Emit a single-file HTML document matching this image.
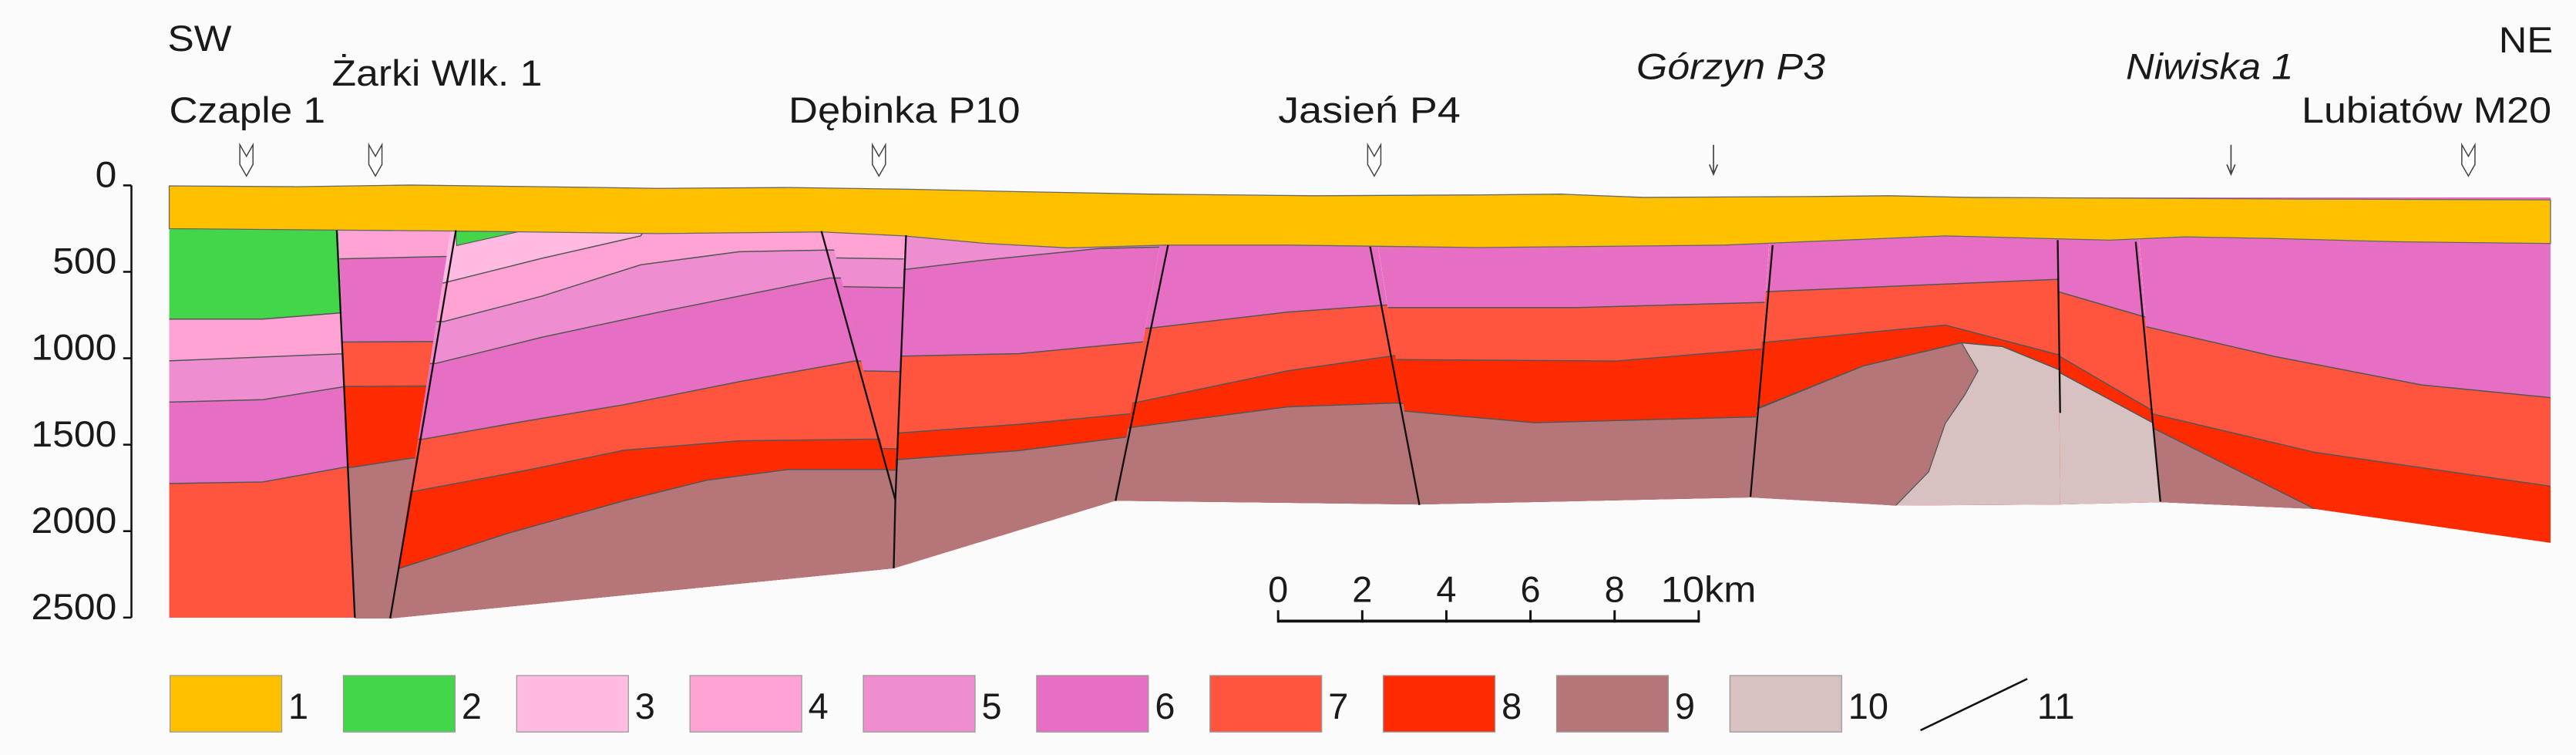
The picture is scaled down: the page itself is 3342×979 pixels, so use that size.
<!DOCTYPE html>
<html><head><meta charset="utf-8"><style>
html,body{margin:0;padding:0;background:#fbfbfb;}
svg{display:block;}
text{font-family:"Liberation Sans",sans-serif;fill:#1a1a1a;}
</style></head><body>
<svg id="s" width="3342" height="979" viewBox="0 0 1568 459" preserveAspectRatio="none" xmlns="http://www.w3.org/2000/svg">
<rect x="0" y="0" width="1568" height="459" fill="#fbfbfb"/>
<defs id="defs"></defs>
<g id="blocks"></g>
<g id="top"></g>
</svg>
<script>
const C={1:'#FFC000',2:'#43D64A',3:'#FFBBE1',4:'#FFA3D5',5:'#EE8DCF',6:'#E66FC3',7:'#FF553F',8:'#FF2B00',9:'#B5767A',10:'#D8C1C1'};
const depthTicks=[0,500,1000,1500,2000,2500];
const tickW=[13,39,52,52,52,52];
const wellNames=['Czaple 1','Żarki Wlk. 1','Dębinka P10','Jasień P4','Górzyn P3','Niwiska 1','Lubiatów M20'];
const wellX=[150,228.5,535,836.5,1043,1358,1502.5];
const wellKind=[0,0,0,0,1,1,0];
const labelPos=[[103,74.6,95,0],[202,52,128,0],[480,74.6,141,0],[778,74.6,111,0],[996,48,115,1],[1294,48,102,1],[1401,74.6,152,0]];
const NS='http://www.w3.org/2000/svg';
const svg=document.getElementById('s'),defs=document.getElementById('defs'),G=document.getElementById('blocks'),T=document.getElementById('top');
function el(tag,attrs,parent){const e=document.createElementNS(NS,tag);for(const k in attrs)e.setAttribute(k,attrs[k]);(parent||G).appendChild(e);return e;}
function pts(a){return a.map(p=>p.join(',')).join(' ');}
function ext(ln){const a=ln[0],b=ln[ln.length-1];return [[a[0]-80,a[1]]].concat(ln,[[b[0]+80,b[1]]]);}
const blocks=[
 {n:'A',clip:[[103,120],[205,120],[216,375.5],[103,375.5]],base:2,lines:[
  [[[100,194],[160,194],[210,190]],4],[[[100,219.5],[210,215]],5],[[[100,244.5],[160,243],[210,235]],6],[[[100,294],[160,293],[210,284]],7]]},
 {n:'B',clip:[[205,120],[277.5,120],[237.5,376],[216,376]],base:4,lines:[
  [[[200,157.5],[280,155.7]],6],[[[200,208],[280,207.5]],7],[[[200,235],[280,234.5]],8],[[[200,285],[215,284],[250,278.6],[280,276]],9]]},
 {n:'C',clip:[[277.5,120],[500,120],[545,304],[544,345.5],[237.5,376]],base:3,lines:[
  [[[270,172],[330,157],[390,143.4],[420,100],[510,100]],4],
  [[[270,195.5],[330,180],[390,161],[450,153],[505,152]],5],
  [[[265,221],[330,205],[400,190],[505,169]],6],
  [[[257.5,267],[320,256],[380,246],[450,232],[520,219.5]],7],
  [[[252.5,298.6],[320,286],[380,273.7],[450,268],[530,267]],8],
  [[[243.5,345.4],[310,324],[380,304.4],[430,292],[480,285.4],[540,285.4]],9]]},
 {n:'D',clip:[[500,120],[551.5,120],[545,304]],base:4,lines:[
  [[[495,156.6],[555,157.5]],5],[[[495,174],[555,175]],6],[[[495,225],[555,226]],7],[[[495,272],[555,273]],8],[[[495,285],[555,286]],9]]},
 {n:'E',clip:[[551.5,120],[711,120],[679,304.4],[544,345.5],[545,304]],base:5,lines:[
  [[[545,164.5],[600,158],[670,151],[715,150]],6],[[[545,216.6],[620,215],[715,206]],7],
  [[[545,263.4],[620,258],[715,249]],8],[[[545,279.5],[620,274],[715,262]],9]]},
 {n:'F',clip:[[711,120],[834,120],[864,306.7],[679,304.4]],base:6,lines:[
  [[[700,199.5],[784,189.7],[850,185]],7],[[[690,245],[784,225.4],[850,216]],8],[[[680,261],[784,247.3],[850,245],[870,247]],9]]},
 {n:'G',clip:[[834,120],[1079,120],[1065.5,302.4],[864,306.7]],base:6,lines:[
  [[[830,187],[959,187],[1085,183.5]],7],[[[840,218.5],[984,219.5],[1085,211]],8],[[[850,249.5],[934,257],[1085,253]],9]]},
 {n:'H',clip:[[1079,120],[1252.5,120],[1254,306.7],[1154,307.3],[1065.5,302.4]],base:6,lines:[
  [[[1070,177.5],[1260,169.5]],7],[[[1070,208.5],[1184,197.6],[1260,217.5]],8],
  [[[1065,250.5],[1134,222.5],[1194,208.4],[1219,210.7],[1260,227.5]],10]],
  extra:[[[1060,252],[1134,222.5],[1194,208.4],[1204,225.4],[1196,240],[1184,257.6],[1174,286.8],[1154,307.3],[1060,310]],9]},
 {n:'I',clip:[[1252.5,120],[1300,120],[1315,305.3],[1254,306.7]],base:6,lines:[
  [[[1250,176.5],[1305,192.5]],7],[[[1250,214.5],[1310,249.5]],8],[[[1250,224.5],[1315,259.5]],10]]},
 {n:'J',clip:[[1300,120],[1552.5,120],[1552.5,330],[1409,309.4],[1315,305.3]],base:6,lines:[
  [[[1295,196],[1384,216.6],[1474,234],[1560,242.5]],7],[[[1295,248],[1409,275],[1560,296.7]],8],
  [[[1295,253],[1311,260.5],[1409,309.4],[1560,380]],9]]}
];
blocks.forEach(b=>{
 const cp=el('clipPath',{id:'c'+b.n},defs);el('polygon',{points:pts(b.clip)},cp);
 const g=el('g',{'clip-path':'url(#c'+b.n+')'});
 
 
 const r=el('polygon',{points:pts(b.clip),fill:C[b.base]},g);
 
 
 b.lines.forEach(([ln0,col])=>{
  const ln=ext(ln0);
  const poly=ln.concat([[ln[ln.length-1][0],420],[ln[0][0],420]]);
  const p=el('polygon',{points:pts(poly),fill:C[col]},g);
  
  
 });
 if(b.extra){const p=el('polygon',{points:pts(b.extra[0]),fill:C[b.extra[1]],stroke:'#555','stroke-width':0.6},g);
  }
 b.lines.forEach(([ln0])=>{const l=el('polyline',{points:pts(ext(ln0)),fill:'none',stroke:'#555','stroke-width':0.7},g);
  });
});
let gw=el('polygon',{points:'277.5,140.5 315,141 278,149.3',fill:C[2],stroke:'#555','stroke-width':0.5});

const yTop=[[103,113],[180,113.5],[250,112.5],[330,113.5],[400,114.5],[480,114],[550,115],[620,116.5],[700,118],[800,119],[900,118.5],[950,118],[1000,120],[1100,119.5],[1150,119],[1200,120],[1300,120.5],[1400,121],[1552.5,121.5]];
const yBase=[[1552.5,148],[1460,147],[1384,145],[1330,144],[1284,146],[1184,143.4],[1050,149],[900,150.5],[784,149],[710,149],[650,150.7],[600,148],[550,143.4],[500,141],[400,142],[280,140.5],[103,139]];
let yl=el('polygon',{points:pts(yTop.concat(yBase)),fill:C[1],stroke:'#666','stroke-width':0.6},T);

const faults=[[[205,140],[216,375.5]],[[277.5,140],[237.5,376]],[[500,140.5],[545,304]],[[551.5,143],[545,304],[544,345.5]],[[711,149],[679,304.5]],[[834,150],[864,307]],[[1079,149],[1065.5,302]],[[1252.5,146],[1254,251]],[[1300,147],[1315,305]]];
faults.forEach(f=>{const l=el('polyline',{points:pts(f),fill:'none',stroke:'#111','stroke-width':1.1},T);
 });
let ax=el('line',{x1:80,y1:112.7,x2:80,y2:375.5,stroke:'#111','stroke-width':1.2},T);

const yd=d=>112.7+d*0.1051;
depthTicks.forEach((d,i)=>{
 const y=yd(d);
 const t=el('line',{x1:75,y1:y,x2:80,y2:y,stroke:'#111','stroke-width':1.2},T);
 
 const tx=el('text',{x:71,y:y+1,'text-anchor':'end','font-size':22,textLength:tickW[i],lengthAdjust:'spacingAndGlyphs'},T);
 tx.textContent=d;
 
});
wellX.forEach((cx,i)=>{
 let m;
 if(wellKind[i]===0){m=el('polygon',{points:pts([[cx-4,88],[cx,95],[cx+4,88],[cx+4,100],[cx,107],[cx-4,100]]),fill:'#fff',stroke:'#444','stroke-width':0.7},T);}
 else{m=el('path',{d:`M${cx},88 L${cx},106 M${cx-2.5},100 L${cx},106 L${cx+2.5},100`,fill:'none',stroke:'#444','stroke-width':0.8},T);}
 
 const lp=labelPos[i];
 const t=el('text',{x:lp[0],y:lp[1],'font-size':22,textLength:lp[2],lengthAdjust:'spacingAndGlyphs'},T);
 if(lp[3])t.setAttribute('font-style','italic');
 t.textContent=wellNames[i];
 
});
let sw=el('text',{x:102,y:31,'font-size':22,textLength:39,lengthAdjust:'spacingAndGlyphs'},T);sw.textContent='SW';

let ne=el('text',{x:1521,y:32,'font-size':22,textLength:33,lengthAdjust:'spacingAndGlyphs'},T);ne.textContent='NE';

const scaleKm=[0,2,4,6,8,10];
const sx=k=>778+k*25.6;
let sb=el('path',{d:`M${sx(0)},377.6 L${sx(10)},377.6`,stroke:'#111','stroke-width':1.8,fill:'none'},T);

scaleKm.forEach(k=>{
 const t=el('line',{x1:sx(k),y1:371,x2:sx(k),y2:378.5,stroke:'#111','stroke-width':1.4},T);
 
 const l=el('text',{x:k===10?1011:sx(k),y:366,'font-size':22,'text-anchor':k===10?'start':'middle'},T);
 if(k===10){l.setAttribute('textLength',58);l.setAttribute('lengthAdjust','spacingAndGlyphs');}
 l.textContent=k===10?'10km':k;
 
});
for(let i=1;i<=10;i++){
 const x=103.5+(i-1)*105.5;
 const r=el('rect',{x:x,y:410.7,width:68,height:34.3,fill:C[i],stroke:'#999','stroke-width':0.6},T);
 
 const t=el('text',{x:x+72,y:437,'font-size':22},T);t.textContent=i;
 
}
let l11=el('line',{x1:1169,y1:444,x2:1234,y2:412.7,stroke:'#111','stroke-width':1.2},T);

let t11=el('text',{x:1240,y:437,'font-size':22},T);t11.textContent='11';

</script>
</body></html>
